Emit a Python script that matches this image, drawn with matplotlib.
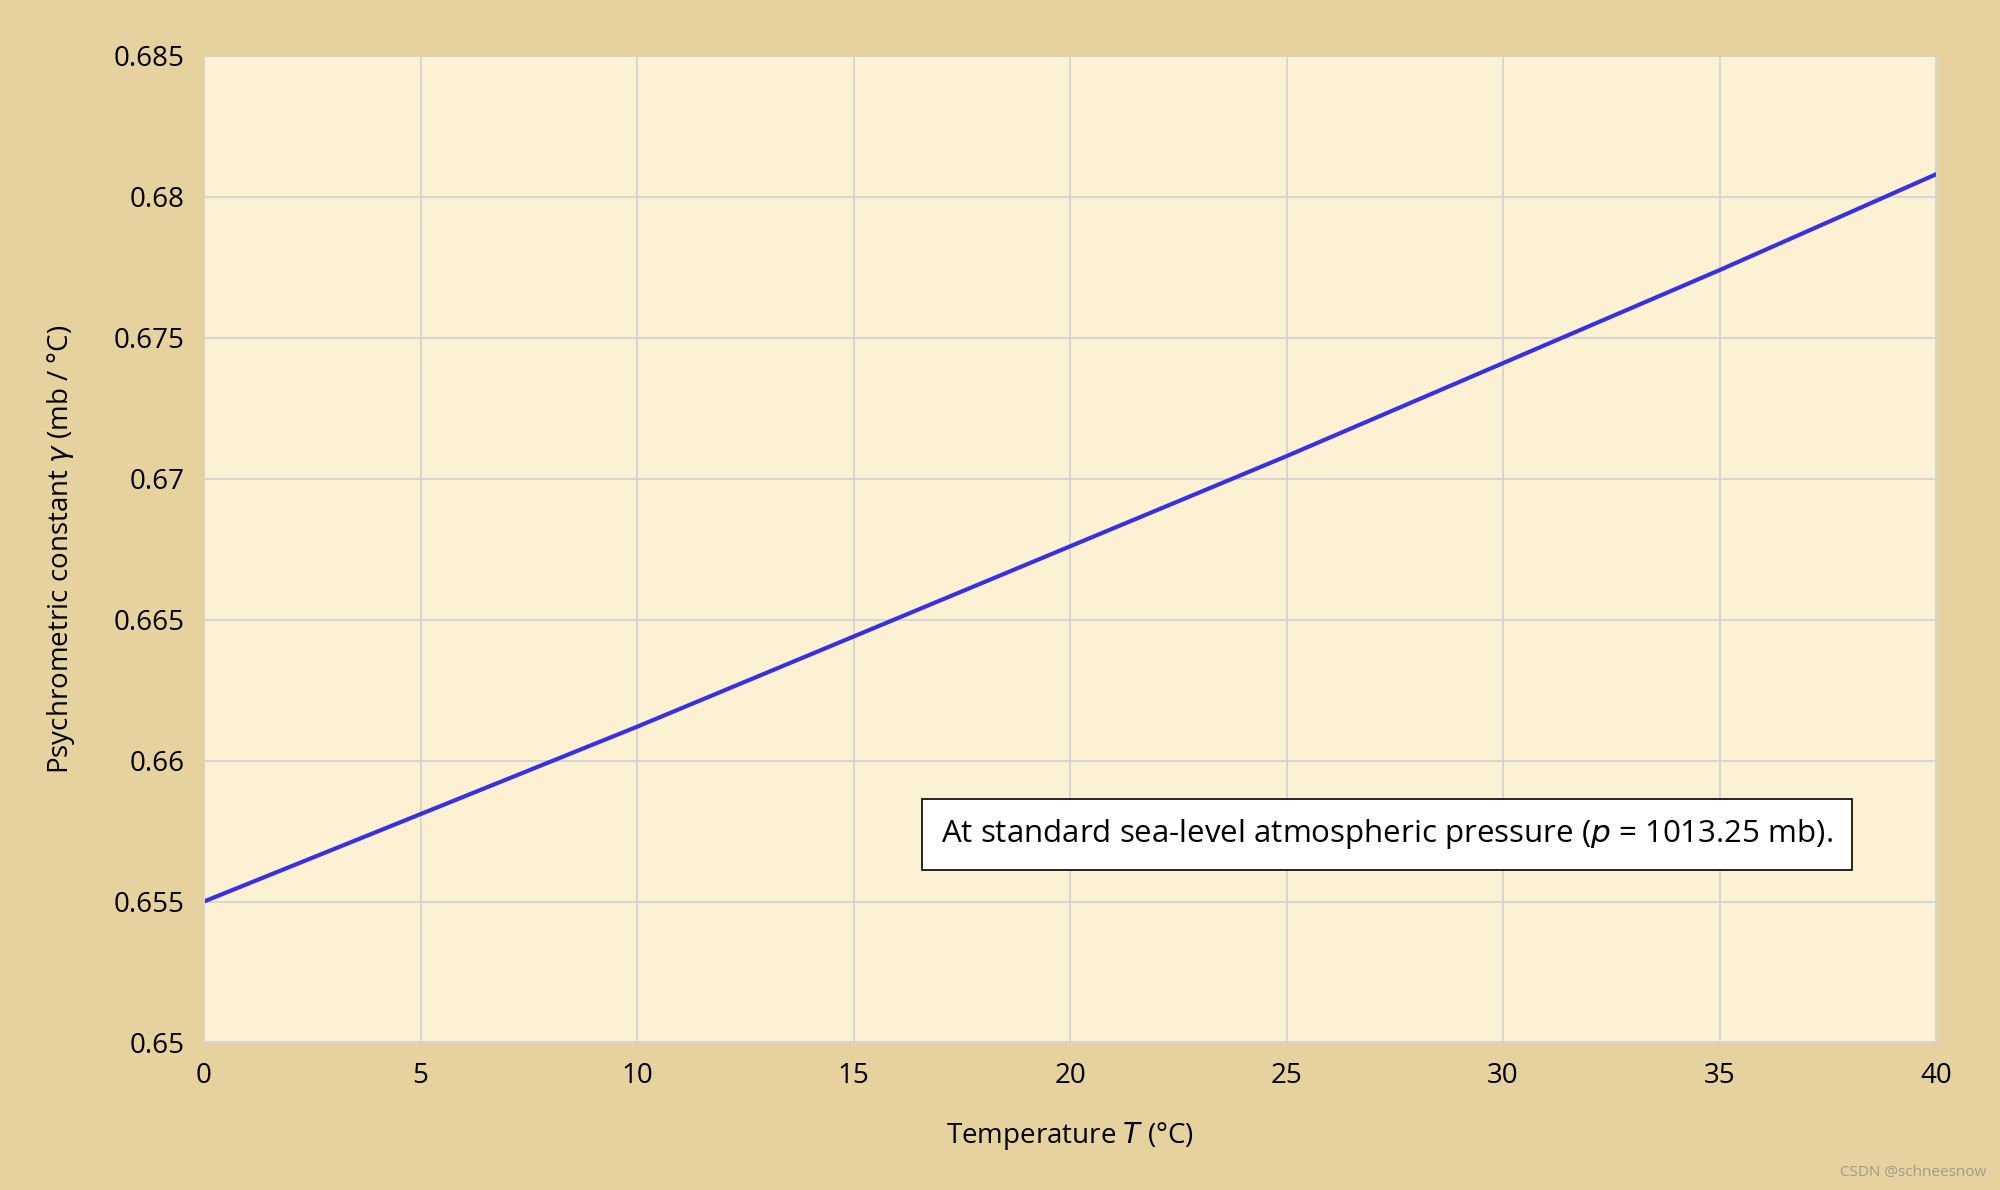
import matplotlib.pyplot as plt

temps = [0, 5, 10, 15, 20, 25, 30, 35, 40]
gamma = [0.6550, 0.6581, 0.6612, 0.6644, 0.6676, 0.6708, 0.6741, 0.6774, 0.6808]

plt.rcParams['font.family'] = ['Open Sans', 'DejaVu Sans']

fig = plt.figure(figsize=(20, 11.9), dpi=100, facecolor='#e6d29f')
ax = fig.add_axes([0.102, 0.124, 0.866, 0.829])
ax.set_facecolor('#fcf2d3')
ax.plot(temps, gamma, color='#3a30e0', linewidth=3)

ax.set_xlim(0, 40)
ax.set_ylim(0.65, 0.685)
ax.set_xticks(range(0, 41, 5))
ax.set_yticks([0.65, 0.655, 0.66, 0.665, 0.67, 0.675, 0.68, 0.685])
ax.set_yticklabels(['0.65', '0.655', '0.66', '0.665', '0.67', '0.675', '0.68', '0.685'])
ax.grid(True, color='#d4d4d4', linewidth=1.3)
ax.set_axisbelow(True)
for s in ax.spines.values():
    s.set_color('#d4d4d4')
ax.tick_params(length=0, labelsize=20, pad=14)

ax.set_xlabel('Temperature $\\it{T}$ (°C)', fontsize=20, labelpad=22)
ax.set_ylabel('Psychrometric constant $\\it{γ}$ (mb / °C)', fontsize=20, labelpad=26)

ax.text(0.683, 0.211, 'At standard sea-level atmospheric pressure ($\\it{p}$ = 1013.25 mb).',
        transform=ax.transAxes, ha='center', va='center', fontsize=22.5,
        bbox=dict(boxstyle='square,pad=0.6', facecolor='white', edgecolor='black', linewidth=1.2))

fig.text(0.993, 0.008, 'CSDN @schneesnow', ha='right', va='bottom', fontsize=11, color='#a09a90')

fig.savefig('out.png', facecolor=fig.get_facecolor())
